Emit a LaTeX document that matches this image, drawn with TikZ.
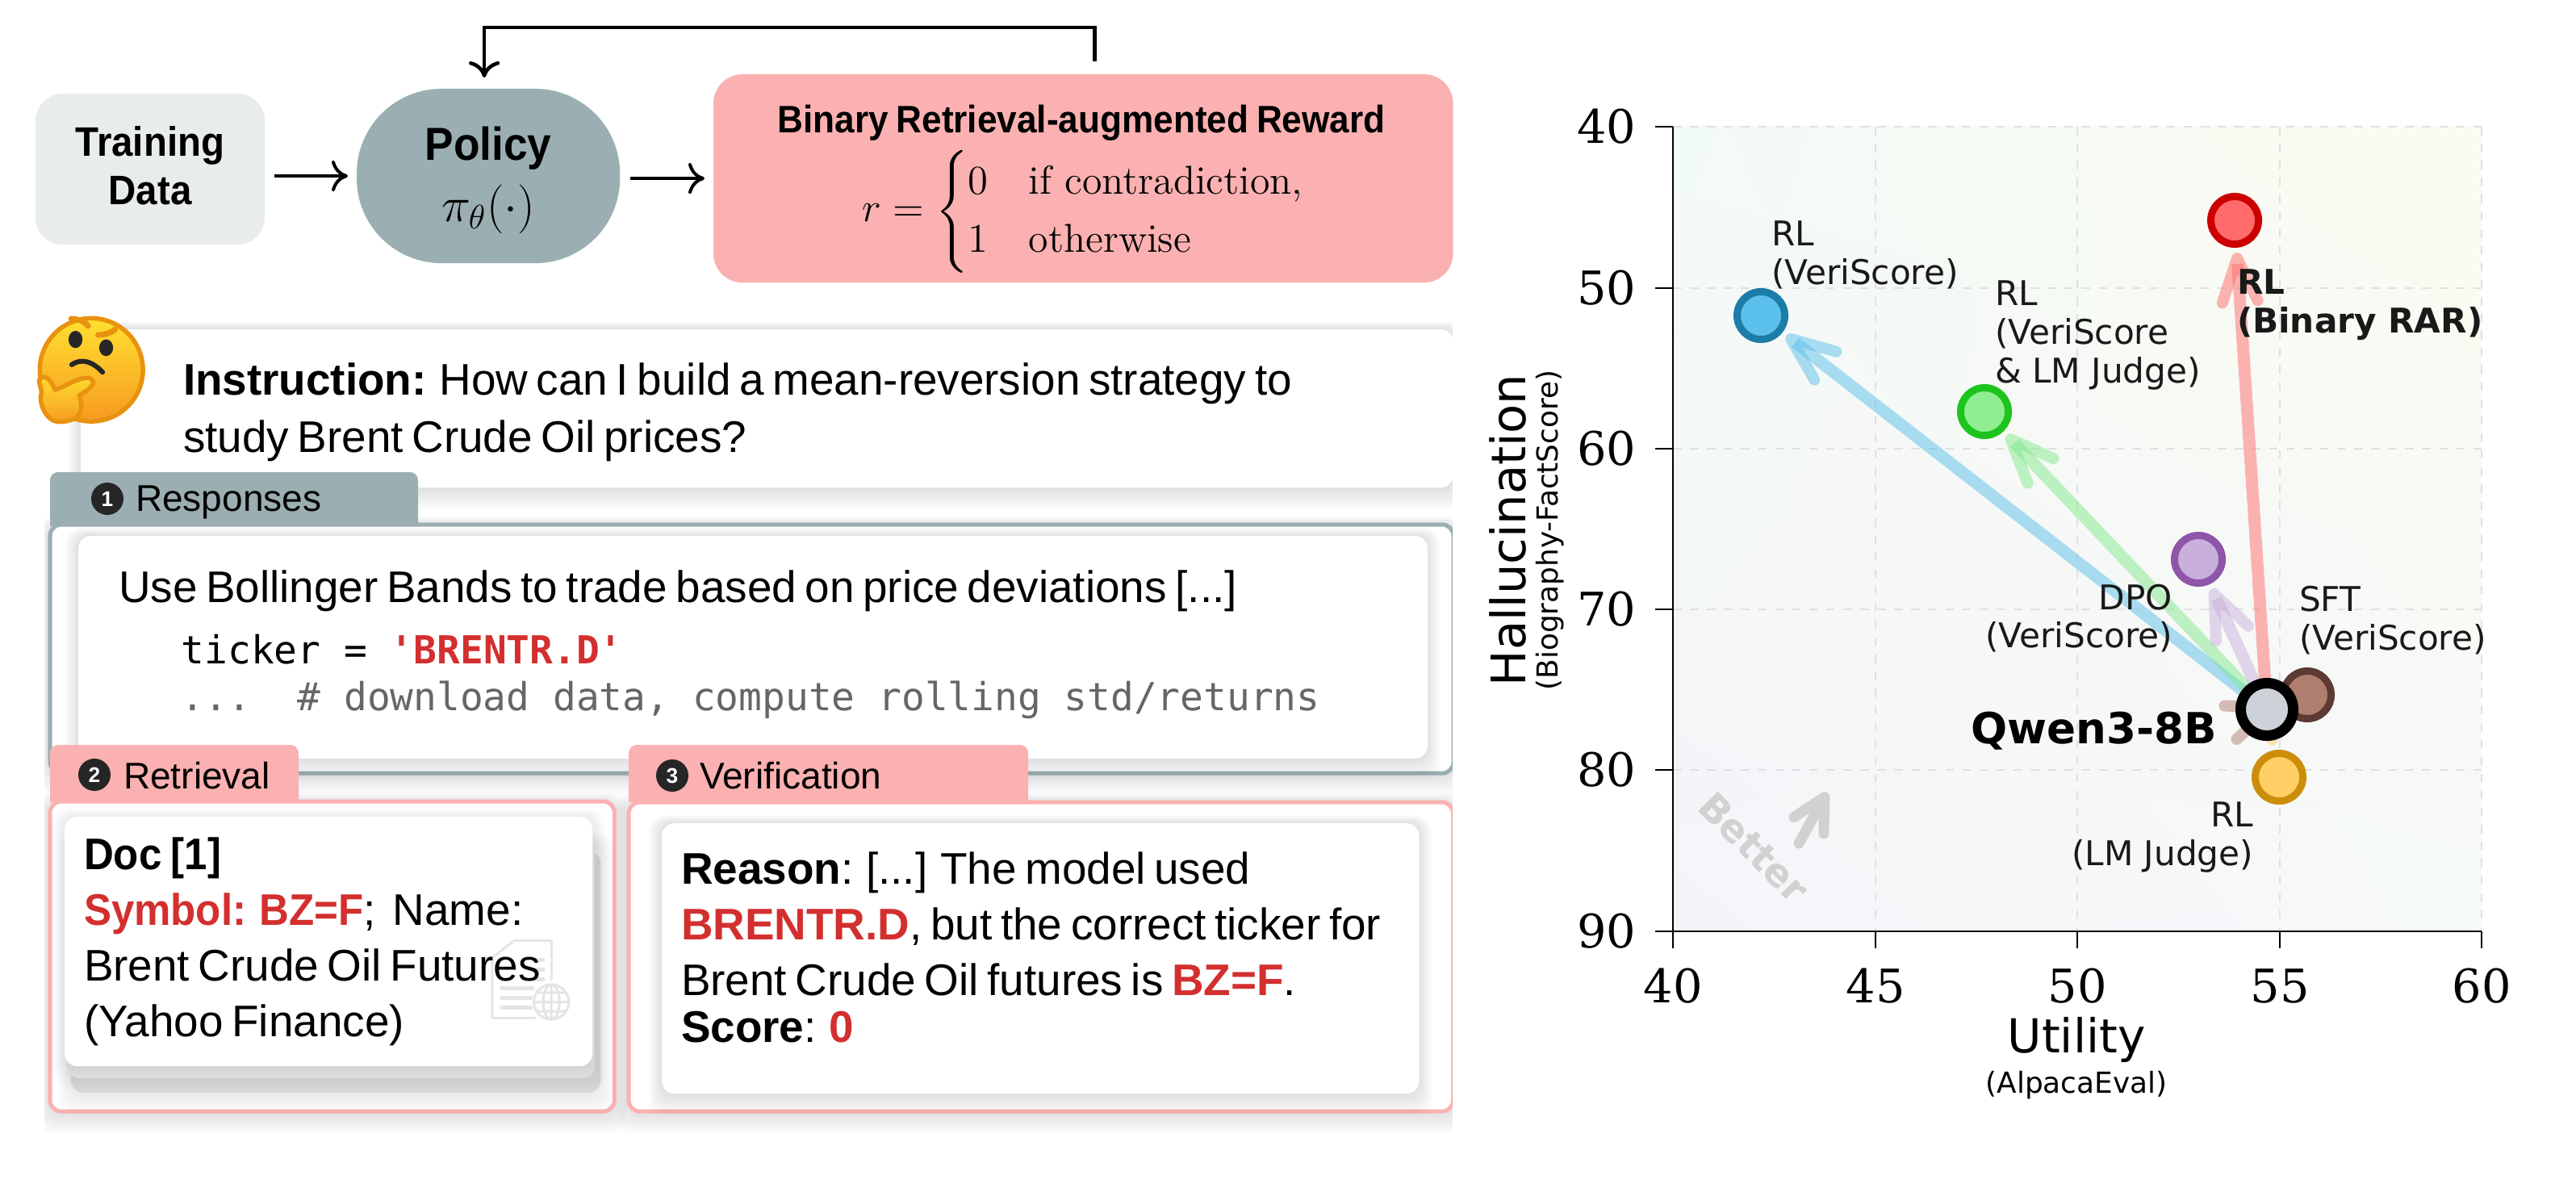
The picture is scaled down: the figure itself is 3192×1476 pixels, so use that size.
\documentclass[tikz,border=0pt]{standalone}
\usepackage{amsmath}
\usepackage{fontspec}
\usetikzlibrary{arrows.meta,calc,backgrounds,shadings}
\newfontfamily\uifont[WordSpace=0.7]{Liberation Sans}
\newfontfamily\headfont[FakeStretch=0.93, WordSpace=0.8]{Liberation Sans}
\newfontfamily\codefont{DejaVu Sans Mono}
\newfontfamily\plotfont{DejaVu Sans}
\newfontfamily\tickfont{DejaVu Serif}
\definecolor{slatefill}{HTML}{9BAFB2}
\definecolor{pinkfill}{HTML}{FBB1B1}
\definecolor{palefill}{HTML}{E8ECEB}
\definecolor{hotred}{HTML}{D32F2F}
\definecolor{bgul}{HTML}{F2FAF7}
\definecolor{bgur}{HTML}{FBFBF0}
\definecolor{bgll}{HTML}{F6F4F9}
\definecolor{bglr}{HTML}{F6F9FA}
\definecolor{redline}{HTML}{CC0000}
\definecolor{redfill}{HTML}{FF6B6B}
\definecolor{blueline}{HTML}{1C7CA8}
\definecolor{bluefill}{HTML}{5BC0EB}
\definecolor{greenline}{HTML}{1EC41E}
\definecolor{greenfill}{HTML}{90EE90}
\definecolor{greenarr}{HTML}{82E88C}
\definecolor{purpleline}{HTML}{8E55A8}
\definecolor{purplefill}{HTML}{C9B0DC}
\definecolor{brownline}{HTML}{5D3A33}
\definecolor{brownfill}{HTML}{B07E6E}
\definecolor{yellowline}{HTML}{CC8E0A}
\definecolor{yellowfill}{HTML}{FFCF66}
\definecolor{qwenfill}{HTML}{CDD1D8}
\definecolor{emojitop}{HTML}{FFE030}
\definecolor{emojimid}{HTML}{FDD32C}
\definecolor{emojilow}{HTML}{F79A20}
\definecolor{emojiline}{HTML}{E8920F}
\newcommand{\softshadow}[5][.013]{
	\foreach \g in {1,...,10}{
		\fill[black, opacity=#1, rounded corners=.18cm] ({#2-\g*1.6},{#3-\g*1.0}) rectangle ({#4+\g*1.6},{#5+\g*2.8});
	}
}
\newcommand{\tabshape}[5]{
	\fill[#5] (#1,#4) [rounded corners=.1cm] -- (#1,#2) -- (#3,#2) [sharp corners] -- (#3,#4) -- cycle;
}
\begin{document}
\begin{tikzpicture}[x=0.01cm, y=-0.01cm,
	box/.style={rectangle, inner sep=0, outer sep=0, anchor=north west},
	card/.style={box, fill=white, rounded corners=.16cm},
	flow/.style={line width=.04cm, -{To[length=.2cm, width=.38cm]}},
	txt/.style={inner sep=0, outer sep=0, anchor=north west, align=left},
	bullet/.style={circle, fill=black!85, text=white, inner sep=0, minimum size=.4cm, font=\uifont\fontsize{7.5pt}{8pt}\selectfont\bfseries},
	tabtext/.style={inner sep=0, outer sep=0, anchor=base west, font=\uifont\fontsize{13.1pt}{16pt}\selectfont},
	pointnode/.style={circle, inner sep=0, minimum size=.59cm, line width=.09cm},
	lab/.style={inner sep=0, outer sep=0, anchor=base west, font=\plotfont\fontsize{12pt}{14pt}\selectfont, text=black!90},
	tickx/.style={inner sep=0, outer sep=0, anchor=base, font=\tickfont\fontsize{16.3pt}{18pt}\selectfont},
	ticky/.style={inner sep=0, outer sep=0, anchor=east, font=\tickfont\fontsize{16.3pt}{18pt}\selectfont},
	gain/.style={color=#1, opacity=.5, line width=.15cm, shorten >=.06cm, -{Straight Barb[length=.54cm, width=.44cm, line width=.14cm, round]}}
]
	\useasboundingbox (0,0) rectangle (3192,1476);

	% training loop
	\node[box, fill=palefill, rounded corners=.34cm, minimum width=2.84cm, minimum height=1.87cm] (training) at (44,116) {};
	\node[inner sep=0, align=center, font=\headfont\fontsize{14.5pt}{17pt}\selectfont\bfseries] (trainingname) at (186,205) {Training\\Data};
	\node[box, fill=slatefill, rounded corners=1.05cm, minimum width=3.26cm, minimum height=2.16cm] (policy) at (442,110) {};
	\node[inner sep=0, font=\headfont\fontsize{16.3pt}{20pt}\selectfont\bfseries] (policyname) at (605,184) {Policy};
	\node[inner sep=0, font=\fontsize{16.5pt}{18pt}\selectfont] (policypi) at (605,259) {$\pi_\theta(\cdot)$};
	\node[box, fill=pinkfill, rounded corners=.36cm, minimum width=9.16cm, minimum height=2.58cm] (reward) at (884,92) {};
	\node[inner sep=0, font=\headfont\fontsize{13.5pt}{16pt}\selectfont\bfseries] (rewardname) at (1340,152) {Binary Retrieval-augmented Reward};
	\node[inner sep=0, anchor=west, font=\fontsize{14.2pt}{17pt}\selectfont] (rewardeq) at (1068,262) {$r = \begin{cases} 0 & \text{if contradiction,}\\ 1 & \text{otherwise}\end{cases}$};
	\draw[flow, shorten <=.12cm, shorten >=.11cm] (training.east |- policy.west) -- (policy.west);
	\draw[flow, shorten <=.13cm, shorten >=.11cm] (policy.east |- reward.west) -- (reward.west);
	\draw[flow, line width=.045cm] (reward.north) ++(14,-16) -- ++(0,-42) -| ($(policy.north)+(-5,-14)$);

	% shadows stop at the panel edge
	\begin{scope}
		\clip (55,392) rectangle (1800,1404);
		\softshadow{100}{408}{1800}{604}
		\node[card, minimum width=17cm, minimum height=1.96cm] (instruction) at (100,408) {};
		\softshadow{62}{650}{1800}{958}
		\node[box, draw=slatefill, fill=white, line width=.05cm, rounded corners=.14cm, minimum width=17.38cm, minimum height=3.08cm] (responses) at (62,650) {};
		\softshadow{97}{664}{1768}{940}
		\node[card, minimum width=16.71cm, minimum height=2.76cm] (answer) at (97,664) {};
		\softshadow{62}{993}{761}{1377}
		\softshadow{779}{993}{1800}{1377}
		\node[box, draw=pinkfill, fill=white, line width=.05cm, rounded corners=.14cm, minimum width=6.99cm, minimum height=3.84cm] (retrieval) at (62,993) {};
		\node[box, draw=pinkfill, fill=white, line width=.05cm, rounded corners=.14cm, minimum width=10.21cm, minimum height=3.83cm] (verification) at (779,994) {};
		\softshadow[.008]{88}{1040}{744}{1354}
		\node[card, fill=black!16, minimum width=6.56cm, minimum height=3.0cm] (docc) at (88,1054) {};
		\node[card, fill=black!9, minimum width=6.54cm, minimum height=3.0cm] (docb) at (83,1036) {};
		\softshadow[.006]{80}{1012}{734}{1321}
		\node[card, minimum width=6.54cm, minimum height=3.09cm] (doca) at (80,1012) {};
		\softshadow{820}{1020}{1758}{1355}
		\node[card, minimum width=9.38cm, minimum height=3.35cm] (reason) at (820,1020) {};
	\end{scope}

	% tabs
	\tabshape{62}{585}{518}{652}{slatefill}
	\tabshape{62}{923}{370}{994}{pinkfill}
	\tabshape{779}{923}{1274}{994}{pinkfill}
	\node[bullet] (numa) at (133,618) {1};
	\node[tabtext] (resptab) at (168,633) {Responses};
	\node[bullet] (numb) at (117,960) {2};
	\node[tabtext] (retrtab) at (153,977) {Retrieval};
	\node[bullet] (numc) at (833,961) {3};
	\node[tabtext] (veritab) at (867,977) {Verification};

	% document icon
	\begin{scope}[shift={(560,1130)}, x=0.00333cm, y=-0.00333cm, draw=black!10, line width=.03cm, line cap=round, line join=round]
		\draw (230,108) -- (150,170) -- (150,395) -- (310,395);
		\draw (230,108) -- (370,108) -- (370,250);
		\draw[line width=.05cm] (185,285) -- (300,285) (185,320) -- (295,320) (185,355) -- (295,355);
		\draw[line width=.05cm] (305,180) -- (340,180) (305,215) -- (340,215) (305,250) -- (340,250);
		\fill[white] (370,335) circle (72);
		\draw (370,335) circle (65) (370,335) ellipse (30 and 65) (305,335) -- (435,335) (370,270) -- (370,400) (315,300) -- (425,300) (315,370) -- (425,370);
	\end{scope}

	% card texts
	\node[txt, font=\uifont\fontsize{15.6pt}{20pt}\selectfont] (instrtext) at (227,450) {\textbf{Instruction:} How can I build a mean-reversion strategy to\\study Brent Crude Oil prices?};
	\node[txt, font=\uifont\fontsize{15.6pt}{19pt}\selectfont] (answertext) at (147,707) {Use Bollinger Bands to trade based on price deviations [...]};
	\node[inner sep=0, anchor=base west, font=\codefont\fontsize{13.6pt}{16pt}\selectfont] (tickertext) at (224,822) {ticker = \textcolor{hotred}{\bfseries\textquotesingle BRENTR.D\textquotesingle}};
	\node[inner sep=0, anchor=base west, text=black!60, font=\codefont\fontsize{13.6pt}{16pt}\selectfont] (codetext) at (224,880) {...\ \ \# download data, compute rolling std/returns};
	\node[txt, font=\uifont\fontsize{15.6pt}{19.6pt}\selectfont] (doctext) at (104,1038) {{\headfont\bfseries Doc [1]}\\\textcolor{hotred}{\headfont\bfseries Symbol: BZ=F};\ \ Name:\\Brent Crude Oil Futures\\(Yahoo Finance)};
	\node[txt, font=\uifont\fontsize{15.6pt}{19.6pt}\selectfont] (reasontext) at (844,1056) {\textbf{Reason}: [...] The model used\\\textcolor{hotred}{\textbf{BRENTR.D}}, but the correct ticker for\\Brent Crude Oil futures is \textcolor{hotred}{\textbf{BZ=F}}.\\[-3pt]\textbf{Score}: \textcolor{hotred}{\textbf{0}}};

	% thinking face
	\begin{scope}[shift={(30,380)}, x=0.00333cm, y=-0.00333cm, line join=round, line cap=round]
		\shade[top color=emojitop, middle color=emojimid, bottom color=emojilow, draw=emojiline, line width=.055cm] (250,235) circle (192);
		\fill[black!85] (191,122) ellipse (26 and 32) (305,153) ellipse (26 and 31);
		\draw[black!85, line width=.06cm] (177,216) .. controls (215,190) and (255,205) .. (292,244);
		\draw[emojiline, line width=.07cm] (175,45) .. controls (200,45) and (225,55) .. (238,72);
		\draw[emojiline, line width=.07cm] (275,105) .. controls (295,105) and (320,100) .. (338,85);
		\shade[top color=emojitop, bottom color=emojilow, draw=emojiline, line width=.055cm] (55,275) .. controls (70,250) and (95,260) .. (115,310) .. controls (160,295) and (200,262) .. (240,265) .. controls (270,275) and (260,300) .. (205,330) .. controls (215,360) and (220,400) .. (185,418) .. controls (150,432) and (110,435) .. (90,410) .. controls (65,385) and (55,340) .. (65,320) -- cycle;
	\end{scope}

	% plot
	\node[pointnode, draw=brownline, fill=brownfill] (sft) at (2859,861) {};
	\node[circle, draw=black, fill=qwenfill, inner sep=0, minimum size=.65cm, line width=.13cm] (qwen) at (2809,879) {};
	\node[pointnode, draw=redline, fill=redfill] (rlbinary) at (2769,273) {};
	\node[pointnode, draw=blueline, fill=bluefill] (rlveri) at (2182,391) {};
	\node[pointnode, draw=greenline, fill=greenfill] (rlboth) at (2459,510) {};
	\node[pointnode, draw=purpleline, fill=purplefill] (dpo) at (2724,693) {};
	\node[pointnode, draw=yellowline, fill=yellowfill] (rljudge) at (2824,963) {};
	\begin{pgfonlayer}{background}
		\shade[upper left=bgul, upper right=bgur, lower left=bgll, lower right=bglr] (2073,157) rectangle (3075,1154);
		\foreach \xv in {2073,2324,2574,2825,3075}
			\draw[black!12, dashed, line width=.025cm] (\xv,157) -- (\xv,1154);
		\foreach \yv in {157,357,556,755,954}
			\draw[black!12, dashed, line width=.025cm] (2073,\yv) -- (3075,\yv);
		\draw[black, line width=.025cm] (2073,157) -- (2073,1154) -- (3075,1154);
		\foreach \xv in {2073,2324,2574,2825,3075}
			\draw[black, line width=.025cm] (\xv,1154) -- (\xv,1175);
		\foreach \yv in {157,357,556,755,954,1154}
			\draw[black, line width=.025cm] (2051,\yv) -- (2073,\yv);
		\draw[gain=bluefill] (qwen.center) -- (rlveri);
		\draw[gain=greenarr] (qwen.center) -- (rlboth);
		\draw[gain=purplefill] (qwen.center) -- (dpo);
		\draw[gain=redfill] (qwen.center) -- (rlbinary);
		\draw[gain=yellowfill] (qwen.center) -- (rljudge);
		\draw[gain=brownfill] (qwen.center) -- (sft);
	\end{pgfonlayer}

	\foreach \xv/\xt in {2073/40,2324/45,2574/50,2825/55,3075/60}
		\node[tickx] (x\xt) at (\xv,1242) {\xt};
	\foreach \yv/\yt in {157/40,357/50,556/60,755/70,954/80,1154/90}
		\node[ticky] (y\yt) at (2027,\yv) {\yt};
	\node[inner sep=0, anchor=base, font=\plotfont\fontsize{16.5pt}{18pt}\selectfont] (xname) at (2573,1304) {Utility};
	\node[inner sep=0, anchor=base, font=\plotfont\fontsize{10.2pt}{12pt}\selectfont] (xsub) at (2573,1354) {(AlpacaEval)};
	\node[inner sep=0, anchor=base, rotate=90, font=\plotfont\fontsize{16.8pt}{18pt}\selectfont] (yname) at (1890,657) {Hallucination};
	\node[inner sep=0, anchor=base, rotate=90, font=\plotfont\fontsize{10.2pt}{12pt}\selectfont] (ysub) at (1930,657) {(Biography-FactScore)};

	\node[lab] (labrlv) at (2195,304) {RL};
	\node[lab] (labrlvb) at (2195,352) {(VeriScore)};
	\node[lab] (labrlb) at (2472,378) {RL};
	\node[lab] (labrlbb) at (2472,426) {(VeriScore};
	\node[lab] (labrlbc) at (2472,474) {\& LM Judge)};
	\node[lab] (labbin) at (2772,364) {\bfseries RL};
	\node[lab] (labbinb) at (2772,412) {\bfseries (Binary RAR)};
	\node[lab, anchor=base east] (labdpo) at (2692,755) {DPO};
	\node[lab, anchor=base east] (labdpob) at (2692,802) {(VeriScore)};
	\node[lab] (labsft) at (2849,757) {SFT};
	\node[lab] (labsftb) at (2849,805) {(VeriScore)};
	\node[lab, anchor=base east] (labjud) at (2792,1024) {RL};
	\node[lab, anchor=base east] (labjudb) at (2792,1072) {(LM Judge)};
	\node[lab, anchor=base east, text=black, font=\plotfont\fontsize{15.1pt}{18pt}\selectfont\bfseries] (labqwen) at (2747,921) {Qwen3-8B};

	% better marker
	\node[inner sep=0, rotate=-45, text=black!18, font=\plotfont\fontsize{13.5pt}{15pt}\selectfont\bfseries] (bettertext) at (2173,1050) {Better};
	\coordinate (bettertail) at (2229,1045);
	\coordinate (bettertip) at (2264,982);
	\draw[black!18, line width=.13cm, line cap=round, -{Straight Barb[length=.4cm, width=.42cm, line width=.13cm, round]}] (bettertail) -- (bettertip);
\end{tikzpicture}
\end{document}
